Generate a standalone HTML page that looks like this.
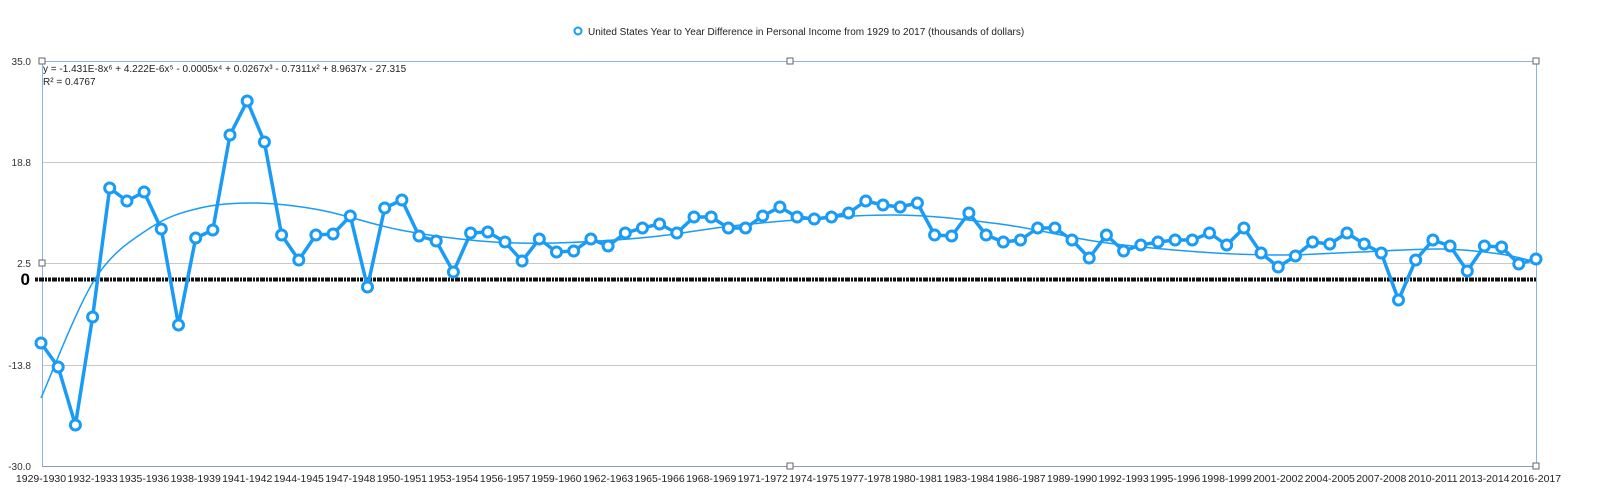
<!DOCTYPE html>
<html><head><meta charset="utf-8"><style>
html,body{margin:0;padding:0;background:#fff;}
svg{display:block;font-family:"Liberation Sans",Arial,sans-serif;}
</style></head><body>
<svg id="s" width="1600" height="504" viewBox="0 0 1600 504" xmlns="http://www.w3.org/2000/svg">
<g stroke="#c8c8c8" stroke-width="1">
<line x1="42" y1="162.5" x2="1536" y2="162.5"/>
<line x1="42" y1="263.5" x2="1536" y2="263.5"/>
<line x1="42" y1="365.5" x2="1536" y2="365.5"/>
</g>
<line x1="42.5" y1="61" x2="42.5" y2="466" stroke="#8fb0f0" stroke-width="1"/>
<line x1="1536.5" y1="61" x2="1536.5" y2="466" stroke="#8fb0f0" stroke-width="1"/>
<line x1="42" y1="61.5" x2="1536" y2="61.5" stroke="#8fb0f0" stroke-width="1"/>
<line x1="42" y1="466.5" x2="1536" y2="466.5" stroke="#8a9ab8" stroke-width="1"/>
<line x1="35" y1="279.5" x2="1536" y2="279.5" stroke="#111" stroke-width="4" stroke-dasharray="3 1 5 1 2 1"/>
<g font-size="10" fill="#333" text-anchor="end">
<text x="31" y="65">35.0</text>
<text x="31" y="166">18.8</text>
<text x="31" y="267">2.5</text>
<text x="31" y="369">-13.8</text>
<text x="31" y="470">-30.0</text>
</g>
<text x="30" y="285" font-size="17" font-weight="bold" text-anchor="end" fill="#000">0</text>
<text x="43" y="72" font-size="10" fill="#222">y = -1.431E-8x⁶ + 4.222E-6x⁵ - 0.0005x⁴ + 0.0267x³ - 0.7311x² + 8.9637x - 27.315</text>
<text x="43" y="85" font-size="10" fill="#222">R² = 0.4767</text>
<circle cx="578" cy="31" r="3.5" fill="#fff" stroke="#1a9bf5" stroke-width="2"/>
<text x="588" y="35" font-size="10" fill="#222">United States Year to Year Difference in Personal Income from 1929 to 2017 (thousands of dollars)</text>
<path id="trend" fill="none" stroke="#1a9bf5" stroke-width="1.5"/>
<path id="line" fill="none" stroke="#1a9bf5" stroke-width="3.5" stroke-linejoin="round"/>
<g id="pts"></g>
<g id="xl" font-size="10.5" fill="#222" text-anchor="middle"></g>
<g fill="#fff" stroke="#666" stroke-width="1">
<rect x="787" y="58" width="6" height="6"/><rect x="1533" y="58" width="6" height="6"/>
<rect x="787" y="463" width="6" height="6"/><rect x="1533" y="463" width="6" height="6"/>
<rect x="39" y="260" width="6" height="6"/><rect x="39" y="58" width="6" height="6"/>
</g>
</svg>
<script>
var ys=[343,367,425,317,188,201,192,229,325,238,230,135,101,142,235,260,235,234,216,287,208,200,236,241,272,233,232,242,261,239,252,251,239,246,233,228,224,233,217,217,228,228,216,207,217,219,217,213,201,205,207,203,235,236,213,235,242,240,228,228,240,258,235,251,245,242,240,240,233,245,228,253,267,256,242,244,233,244,253,300,260,240,246,271,246,247,264,259];
var n=ys.length,x0=41,dx=(1536-41)/(n-1),d="",g="",xl="";
var ns="http://www.w3.org/2000/svg";
for(var i=0;i<n;i++){var x=x0+i*dx;d+=(i?"L":"M")+x.toFixed(1)+","+ys[i];
g+='<circle cx="'+x.toFixed(1)+'" cy="'+ys[i]+'" r="5" fill="#fff" stroke="#1a9bf5" stroke-width="3"/>';
if(i%3==0){var y=1929+i;xl+='<text x="'+x.toFixed(1)+'" y="482">'+y+'-'+(y+1)+'</text>';}}
document.getElementById("line").setAttribute("d",d);
document.getElementById("pts").innerHTML=g;
document.getElementById("xl").innerHTML=xl;
var tp=[[41,398],[95,279],[150,228],[200,208],[255,203],[320,210],[400,230],[480,241],[555,243],[650,237],[750,224],[890,215],[1000,224],[1100,242],[1200,252],[1280,255],[1360,252],[1440,249],[1500,254],[1536,262]];
var p="M"+tp[0][0]+","+tp[0][1];
for(var k=0;k<tp.length-1;k++){var a=tp[k-1]||tp[k],b=tp[k],c=tp[k+1],e=tp[k+2]||c;
p+=" C"+(b[0]+(c[0]-a[0])/6).toFixed(1)+","+(b[1]+(c[1]-a[1])/6).toFixed(1)+" "+(c[0]-(e[0]-b[0])/6).toFixed(1)+","+(c[1]-(e[1]-b[1])/6).toFixed(1)+" "+c[0]+","+c[1];}
document.getElementById("trend").setAttribute("d",p);
</script>
</body></html>
